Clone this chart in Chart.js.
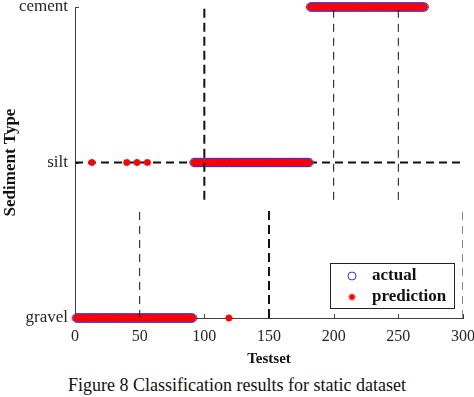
<!DOCTYPE html>
<html>
<head>
<meta charset="utf-8">
<script src="https://cdn.jsdelivr.net/npm/chart.js@4.4.0/dist/chart.umd.min.js"></script>
<style>
  body { margin: 0; background: #fff; }
  #wrap { position: relative; width: 474px; height: 370px; }
  #caption {
    width: 474px;
    text-align: center;
    font-family: "Liberation Serif", "Times New Roman", serif;
    font-size: 18px;
    color: #111;
    margin-top: 5px;
  }
</style>
</head>
<body>
<div id="wrap"><canvas id="chart" width="474" height="370"></canvas></div>
<div id="caption">Figure 8 Classification results for static dataset</div>
<script>
"use strict";

const categories = ["gravel", "silt", "cement"];
const xTicks = [0, 50, 100, 150, 200, 250, 300];

// true class of each test sample, as runs: [category index, first sample, last sample]
const actualRuns = [[0, 1, 91], [1, 92, 181], [2, 182, 270]];
// predicted class follows the same runs, except for these samples: [sample, category index]
const predictionRuns = [[0, 1, 91], [1, 92, 181], [2, 182, 270]];
const predictionMisses = [[13, 1], [40, 1], [48, 1], [56, 1], [119, 0]];

// dashed guide lines
const siltLineX = [0, 300];
const upperGuides = [100, 200, 250];
const lowerGuides = [50, 150, 300];
const upperGuideY = [0.76, 2];
const lowerGuideY = [0, 0.72];

const serif = "'Liberation Serif', 'Times New Roman', serif";

function expandRuns(runs) {
  let pts = [];
  for (let i = 0; i < runs.length; i++) {
    for (let s = runs[i][1]; s <= runs[i][2]; s++) {
      pts.push({ x: s, y: runs[i][0] });
    }
  }
  return pts;
}

const actualPts = expandRuns(actualRuns);
const predictionPts = expandRuns(predictionRuns);
for (let i = 0; i < predictionMisses.length; i++) {
  let p = predictionPts.find(function (q) { return q.x === predictionMisses[i][0]; });
  p.y = predictionMisses[i][1];
}

function guideSet(x, ys, thick) {
  return {
    label: "guide",
    data: [{ x: x, y: ys[0] }, { x: x, y: ys[1] }],
    showLine: true,
    borderColor: "#111",
    borderWidth: thick ? 2 : 1,
    borderDash: thick ? [9, 5] : [8, 6],
    pointRadius: 0,
    order: 0,
  };
}

const datasets = [
  {
    label: "prediction",
    data: predictionPts,
    pointStyle: "star",
    pointRadius: 3.6,
    borderColor: "#ff0000",
    backgroundColor: "#ff0000",
    borderWidth: 2,
    clip: false,
    order: 1,
  },
  {
    label: "actual",
    data: actualPts,
    pointStyle: "circle",
    pointRadius: 4.2,
    borderColor: "#3a2ee8",
    backgroundColor: "rgba(0,0,0,0)",
    borderWidth: 1,
    clip: false,
    order: 2,
  },
  {
    label: "guide",
    data: [{ x: siltLineX[0], y: 1 }, { x: siltLineX[1], y: 1 }],
    showLine: true,
    borderColor: "#111",
    borderWidth: 2,
    borderDash: [8, 5],
    pointRadius: 0,
    order: 3,
  },
];
upperGuides.forEach(function (x) { datasets.push(guideSet(x, upperGuideY, x === 100)); });
lowerGuides.forEach(function (x) { datasets.push(guideSet(x, lowerGuideY, x === 150)); });

// MATLAB style inward tick marks
const innerTicks = {
  id: "innerTicks",
  beforeDatasetsDraw(chart) {
    const ctx = chart.ctx;
    const a = chart.chartArea;
    ctx.save();
    ctx.strokeStyle = "#404040";
    ctx.lineWidth = 1;
    ctx.beginPath();
    xTicks.forEach(function (v) {
      let px = Math.round(chart.scales.x.getPixelForValue(v)) + 0.5;
      ctx.moveTo(px, a.bottom);
      ctx.lineTo(px, a.bottom - 4);
    });
    categories.forEach(function (c, i) {
      let py = Math.round(chart.scales.y.getPixelForValue(i)) + 0.5;
      ctx.moveTo(a.left, py);
      ctx.lineTo(a.left + 4, py);
    });
    ctx.stroke();
    ctx.restore();
  },
};

// legend box inside the lower right corner
const boxLegend = {
  id: "boxLegend",
  afterDraw(chart) {
    const ctx = chart.ctx;
    const a = chart.chartArea;
    const w = 124, h = 45;
    const x0 = a.right - 9 - w, y0 = a.bottom - 10 - h;
    ctx.save();
    ctx.fillStyle = "#fff";
    ctx.fillRect(x0, y0, w, h);
    ctx.strokeStyle = "#222";
    ctx.lineWidth = 1;
    ctx.strokeRect(Math.round(x0) + 0.5, Math.round(y0) + 0.5, w, h);

    let mx = x0 + 22;
    // actual marker
    ctx.beginPath();
    ctx.strokeStyle = "#3a2ee8";
    ctx.arc(mx, y0 + 13, 4, 0, Math.PI * 2);
    ctx.stroke();
    // prediction marker
    ctx.beginPath();
    ctx.strokeStyle = "#ff0000";
    ctx.lineWidth = 1.4;
    for (let k = 0; k < 4; k++) {
      let ang = k * Math.PI / 4;
      ctx.moveTo(mx - 3.5 * Math.cos(ang), y0 + 34 - 3.5 * Math.sin(ang));
      ctx.lineTo(mx + 3.5 * Math.cos(ang), y0 + 34 + 3.5 * Math.sin(ang));
    }
    ctx.stroke();

    ctx.fillStyle = "#111";
    ctx.font = "bold 17px " + serif;
    ctx.textBaseline = "middle";
    ctx.fillText(chart.data.datasets[1].label, x0 + 42, y0 + 13);
    ctx.fillText(chart.data.datasets[0].label, x0 + 42, y0 + 34);
    ctx.restore();
  },
};

const chart = new Chart(document.getElementById("chart"), {
  type: "scatter",
  data: { datasets: datasets },
  options: {
    responsive: false,
    animation: false,
    layout: { padding: { top: 7, right: 11, bottom: 0, left: 0 } },
    plugins: { legend: { display: false }, tooltip: { enabled: false } },
    scales: {
      x: {
        type: "linear",
        min: 0,
        max: 300,
        afterBuildTicks: function (s) { s.ticks = xTicks.map(function (v) { return { value: v }; }); },
        afterFit: function (s) { s.height = 52; s.paddingLeft = 0; s.paddingRight = 0; },
        grid: { display: false, drawTicks: false },
        border: { color: "#404040", width: 1 },
        ticks: { padding: 9, color: "#262626", font: { family: serif, size: 16 } },
        title: {
          display: true,
          text: "Testset",
          color: "#111",
          font: { family: serif, size: 15, weight: "bold" },
          padding: { top: 0, bottom: 2 },
        },
      },
      y: {
        type: "linear",
        min: 0,
        max: 2,
        afterBuildTicks: function (s) { s.ticks = categories.map(function (c, i) { return { value: i }; }); },
        afterFit: function (s) { s.width = 75; s.paddingTop = 0; s.paddingBottom = 0; },
        grid: { display: false, drawTicks: false },
        border: { color: "#404040", width: 1 },
        ticks: {
          padding: 7,
          color: "#262626",
          font: { family: serif, size: 17 },
          callback: function (v) { return categories[v]; },
        },
        title: {
          display: true,
          text: "Sediment Type",
          color: "#111",
          font: { family: serif, size: 17, weight: "bold" },
          padding: { top: 0, bottom: 0 },
        },
      },
    },
  },
  plugins: [innerTicks, boxLegend],
});
</script>
</body>
</html>
